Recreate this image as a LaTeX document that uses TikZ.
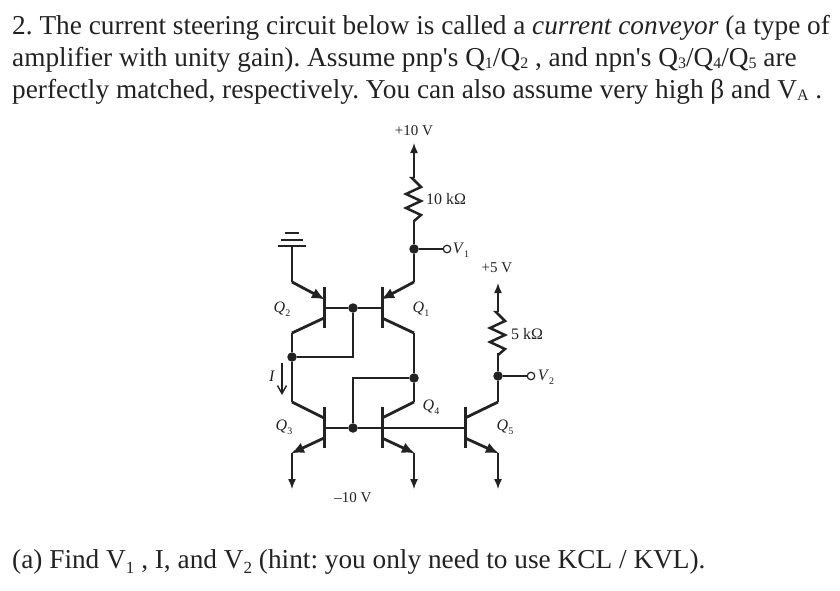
\documentclass[tikz,border=0pt]{standalone}
\usepackage{fontspec}
\setmainfont[Ligatures=TeXOff]{Liberation Serif}
\usetikzlibrary{arrows.meta,calc}
\definecolor{ink}{HTML}{222222}
\newcommand{\subd}[1]{\raisebox{-0.09em}{\fontsize{16}{16}\selectfont #1}}
\newcommand{\sube}[1]{\raisebox{-0.2em}{\fontsize{17}{17}\selectfont #1}}
\newcommand{\lbl}[2]{\textit{#1}\raisebox{-0.25em}{\fontsize{10}{10}\selectfont #2}}
\tikzset{
  wire/.style={draw=ink,line width=1.4pt,line join=miter},
  thick wire/.style={draw=ink,line width=2.8pt},
  bar/.style={draw=ink,line width=3pt},
  supply/.style={wire,-{Latex[length=10pt,width=8pt]}},
  emit/.style={thick wire,-{Latex[length=13pt,width=11pt]},shorten >=-1pt},
  dot/.style={circle,fill=ink,draw=none,minimum size=9.5pt,inner sep=0pt},
  term/.style={circle,draw=ink,fill=white,line width=1.2pt,minimum size=7.5pt,inner sep=0pt},
  para/.style={anchor=base west,inner sep=0pt,font=\fontsize{27.3}{27.3}\selectfont,text=ink},
  lab/.style={inner sep=0pt,font=\fontsize{15}{15}\selectfont,text=ink},
  rlab/.style={inner sep=0pt,font=\fontsize{16}{16}\selectfont,text=ink},
}
\newcommand{\zig}[1]{\draw[wire,line width=2.5pt,line join=miter] (#1) -- ++(-2,0) -- ++(9,9) -- ++(-15,7) -- ++(15,7) -- ++(-15,7) -- ++(15,7) -- ++(-7,6);}
\begin{document}
\frenchspacing
\begin{tikzpicture}[x=1pt,y=-1pt]
\useasboundingbox (0,0) rectangle (840,590);
% text
\node[para] (l1) at (12,34) {2. The current steering circuit below is called a \textit{current conveyor} (a type of};
\node[para] (l2) at (12,66) {amplifier with unity gain). Assume pnp's Q\subd{1}/Q\subd{2} , and npn's Q\subd{3}/Q\subd{4}/Q\subd{5} are};
\node[para] (l3) at (12,98) {perfectly matched, respectively. You can also assume very high β and V\subd{A} .};
\node[para] (l4) at (12,568) {(a) Find V\sube{1} , I, and V\sube{2} (hint: you only need to use KCL / KVL).};
% coordinates
\coordinate (top1) at (414,143);
\coordinate (rt1) at (414,178);
\coordinate (rb1) at (414,220);
\coordinate (e1) at (414,282);
\coordinate (c1) at (414,333);
\coordinate (c4) at (414,402);
\coordinate (e4) at (414,453);
\coordinate (d4) at (414,489);
\coordinate (g) at (292,246);
\coordinate (e2) at (292,282);
\coordinate (c2) at (292,333);
\coordinate (c3) at (292,402);
\coordinate (e3) at (292,453);
\coordinate (d3) at (292,489);
\coordinate (top5) at (498,283);
\coordinate (rt5) at (498,312);
\coordinate (rb5) at (498,353);
\coordinate (c5) at (498,402);
\coordinate (e5) at (498,453);
\coordinate (d5) at (498,489);
\coordinate (b1t) at (382,287); \coordinate (b1b) at (382,328); \coordinate (b1) at (382,308);
\coordinate (b2t) at (324,287); \coordinate (b2b) at (324,328); \coordinate (b2) at (324,308);
\coordinate (b3t) at (324,407); \coordinate (b3b) at (324,448); \coordinate (b3) at (324,428);
\coordinate (b4t) at (382,407); \coordinate (b4b) at (382,448); \coordinate (b4) at (382,428);
\coordinate (b5t) at (465,407); \coordinate (b5b) at (465,448); \coordinate (b5) at (465,428);
\coordinate (i1) at (282,363); \coordinate (i2) at (282,395);
\coordinate (jA) at (353,357); \coordinate (jB) at (353,378);
% nodes
\node[dot] (nV1) at (414,249) {};
\node[dot] (nV2) at (498,376) {};
\node[term] (tV1) at (447,249) {};
\node[term] (tV2) at (531,376) {};
\node[dot] (nB12) at (353,308) {};
\node[dot] (nB34) at (353,428) {};
\node[dot] (nC2) at (292,357) {};
\node[dot] (nC1) at (414,378) {};
% wires
\draw[supply] (rt1) -- (top1);
\zig{rt1}
\draw[wire] (rb1) -- (nV1) -- (e1);
\draw[wire] (nV1) -- (tV1);
\draw[supply] (rt5) -- (top5);
\zig{rt5}
\draw[wire] (rb5) -- (nV2) -- (c5);
\draw[wire] (nV2) -- (tV2);
\draw[wire] (g) -- (e2);
\draw[wire] (c2) -- (nC2) -- (c3);
\draw[wire] (c1) -- (nC1) -- (c4);
\draw[wire] (nC2) -- (jA) -- (nB12);
\draw[wire] (nC1) -- (jB) -- (nB34);
\draw[wire] (b2) -- (nB12) -- (b1);
\draw[wire] (b3) -- (nB34) -- (b5);
\draw[supply] (e3) -- (d3);
\draw[supply] (e4) -- (d4);
\draw[supply] (e5) -- (d5);
% ground
\draw[draw=ink,line width=2.4pt] (285,233) -- (299,233);
\draw[draw=ink,line width=2.4pt] (281,240) -- (303,240);
\draw[draw=ink,line width=2.8pt] (278,246) -- (306,246);
% transistors
\foreach \b in {b1,b2,b3,b4,b5} {\draw[bar] (\b t) -- (\b b);}
\draw[emit] (e1) -- ($(b1)+(0,-9)$);
\draw[emit] (e2) -- ($(b2)+(0,-9)$);
\draw[thick wire] ($(b1)+(0,10)$) -- (c1);
\draw[thick wire] ($(b2)+(0,10)$) -- (c2);
\draw[thick wire] ($(b3)+(0,-10)$) -- (c3);
\draw[thick wire] ($(b4)+(0,-10)$) -- (c4);
\draw[thick wire] ($(b5)+(0,-10)$) -- (c5);
\draw[emit] ($(b3)+(0,10)$) -- (e3);
\draw[emit] ($(b4)+(0,10)$) -- (e4);
\draw[emit] ($(b5)+(0,10)$) -- (e5);
% current arrow
\draw[wire,-{Straight Barb[length=8pt,width=9pt]}] (i1) -- (i2);
% labels
\node[lab] (t10) at (414,131) {+10 V};
\node[rlab] (r10) at (446,199) {10 kΩ};
\node[rlab] (v1) at (461,250) {\lbl{V}{1}};
\node[lab] (t5) at (497,268) {+5 V};
\node[rlab] (r5) at (527,334) {5 kΩ};
\node[rlab] (v2) at (546,377) {\lbl{V}{2}};
\node[rlab] (q2) at (282,309) {\lbl{Q}{2}};
\node[rlab] (q1) at (421,309) {\lbl{Q}{1}};
\node[rlab] (q3) at (284,427) {\lbl{Q}{3}};
\node[rlab] (q4) at (431,407) {\lbl{Q}{4}};
\node[rlab] (q5) at (505,427) {\lbl{Q}{5}};
\node[lab] (tm10) at (353,498) {–10 V};
\node[rlab] (cur) at (272,376) {\textit{I}};
\end{tikzpicture}
\end{document}
